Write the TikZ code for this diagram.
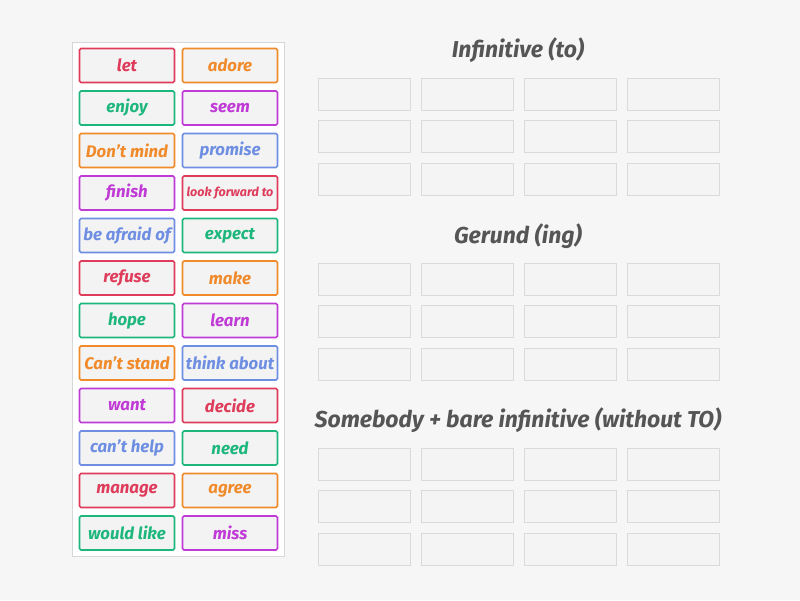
\documentclass[tikz,border=0pt]{standalone}
\usepackage{fontspec}
\setmainfont{Fira Sans}
\begin{document}
\begin{tikzpicture}[x=1pt,y=-1pt,
  tile/.style={draw=#1,line width=1.6pt,fill=tilebg,rounded corners=1.5pt,minimum width=95pt,minimum height=34pt,text=#1,font=\fontsize{16.8}{17}\selectfont\bfseries\itshape,inner sep=1pt},
  slot/.style={draw=slotline,fill=slotbg,line width=0.8pt,minimum width=92pt,minimum height=32pt,inner sep=0pt},
  title/.style={text=titlec,font=\fontsize{23}{23}\selectfont\bfseries\itshape}]
\definecolor{tilebg}{HTML}{F3F3F4}
\definecolor{slotline}{HTML}{DADADA}
\definecolor{slotbg}{HTML}{F4F4F4}
\definecolor{titlec}{HTML}{555555}
\definecolor{cr}{HTML}{DE3C5A}
\definecolor{co}{HTML}{F08A2A}
\definecolor{cg}{HTML}{1DB67C}
\definecolor{cp}{HTML}{C03AD6}
\definecolor{cb}{HTML}{6E8EE2}
\fill[fill={rgb,255:red,246;green,246;blue,246}] (0,0) rectangle (800,600);
\useasboundingbox (0,0) rectangle (800,600);
\node[draw={rgb,255:red,215;green,215;blue,215},fill=white,line width=0.8pt,minimum width=212pt,minimum height=514pt,inner sep=0pt] (panel) at (178,299) {};
\foreach \i/\a/\ca/\b/\cbb in {0/let/cr/adore/co,1/enjoy/cg/seem/cp,2/Don't mind/co/promise/cb,3/finish/cp/{\fontsize{12.5}{12.5}\selectfont look forward to}/cr,4/be afraid of/cb/expect/cg,5/refuse/cr/make/co,6/hope/cg/learn/cp,7/Can't stand/co/think about/cb,8/want/cp/decide/cr,9/can't help/cb/need/cg,10/manage/cr/agree/co,11/would like/cg/miss/cp}{
  \node[tile=\ca] (l\i) at (127,{65.5+42.5*\i}) {\a};
  \node[tile=\cbb] (r\i) at (230,{65.5+42.5*\i}) {\b};
}
\node[title] (t1) at (518,50) {Infinitive (to)};
\node[title] (t2) at (518,236) {Gerund (ing)};
\node[title] (t3) at (518,420) {Somebody + bare infinitive (without TO)};
\foreach \s/\y in {a/94,b/279,c/464}{
 \foreach \r in {0,1,2}{
  \foreach \c in {0,1,2,3}{
   \node[slot] (\s\r\c) at ({364+103*\c},{\y+42.5*\r}) {};
 }}}
\end{tikzpicture}
\end{document}
